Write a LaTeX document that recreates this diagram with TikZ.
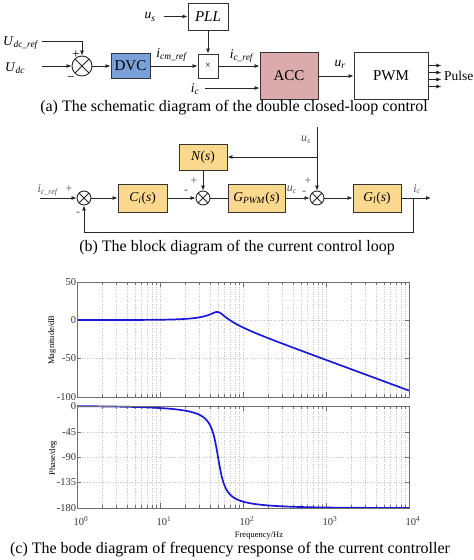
\documentclass[tikz,border=0pt]{standalone}
\usepackage{fontspec}
\setmainfont{Liberation Serif}
\usepackage{tikz}
\usetikzlibrary{arrows.meta,positioning,calc}
\definecolor{dvcblue}{RGB}{122,160,218}
\definecolor{accpink}{RGB}{219,170,170}
\definecolor{tfyellow}{RGB}{250,217,142}
\definecolor{lblgray}{RGB}{85,85,85}
\definecolor{axgray}{RGB}{110,110,110}
\definecolor{bodeblue}{RGB}{25,25,215}
\newcommand{\lbl}[2]{\textit{#1}\textsubscript{\textit{#2}}}
\tikzset{
  blk/.style={draw=black!80, line width=0.9pt, align=center, inner sep=0pt, font=\fontsize{15}{17}\selectfont},
  pllbox/.style={blk, minimum width=40pt, minimum height=27pt},
  dvcbox/.style={blk, fill=dvcblue, minimum width=39pt, minimum height=25pt},
  mulbox/.style={blk, minimum width=20pt, minimum height=24pt, font=\fontsize{10}{12}\selectfont},
  accbox/.style={blk, fill=accpink, minimum width=58pt, minimum height=47pt},
  pwmbox/.style={blk, minimum width=74pt, minimum height=47pt},
  tfbox/.style={blk, fill=tfyellow, minimum width=48pt, minimum height=28pt, font=\fontsize{13.5}{15}\selectfont},
  sum/.style={circle, draw=black!85, line width=0.9pt, minimum size=20pt, inner sep=0pt,
    path picture={\draw[line width=0.9pt] (path picture bounding box.north west)--(path picture bounding box.south east)
      (path picture bounding box.north east)--(path picture bounding box.south west);}},
  sumb/.style={sum, minimum size=14pt},
  wire/.style={line width=0.8pt, draw=black!85},
  sig/.style={wire, ->},
  lbla/.style={inner sep=0pt, font=\fontsize{13.5}{15}\selectfont},
  lblb/.style={inner sep=0pt, text=lblgray, font=\fontsize{12}{14}\selectfont},
  capt/.style={inner sep=0pt, font=\fontsize{16}{19}\selectfont},
  gridln/.style={gray!45, line width=0.4pt, dotted},
  axln/.style={axgray, line width=1pt},
  tickln/.style={axgray, line width=0.6pt},
  ticklbl/.style={inner sep=0.6pt, font=\fontsize{10.5}{12}\selectfont, text=black!80},
  curve/.style={bodeblue, line width=1.7pt, line join=round},
}

\begin{document}
\begin{tikzpicture}[x=1pt,y=-1pt,>={Latex[length=5pt,width=4pt]}]
  \useasboundingbox (0,0) rectangle (474,560);
  % (a) schematic of the double closed loop
  \node[pllbox] (pll) at (208,16.5) {\textit{PLL}};
  \node[sum] (s1) at (82,66) {};
  \node[dvcbox] (dvc) at (130.5,66) {DVC};
  \node[mulbox] (mul) at (208,66) {×};
  \node[accbox] (acc) at (289,76) {ACC};
  \node[pwmbox] (pwm) at (391,76) {PWM};
  \node[lbla] (us) at (150,17) {\lbl{u}{s}};
  \node[lbla] (udcref) at (21,43) {\lbl{U}{dc\_ref}};
  \node[lbla] (udc) at (15,68) {\lbl{U}{dc}};
  \node[lbla] (icm) at (172,55) {\lbl{i}{cm\_ref}};
  \node[lbla] (icref) at (242,56) {\lbl{i}{c\_ref}};
  \node[lbla] (ic) at (195,89) {\lbl{i}{c}};
  \node[lbla] (ur) at (340,64) {\lbl{u}{r}};
  \node[lbla, anchor=west] (pulse) at (444,76) {Pulse};
  \node[lbla] (pa) at (76,55) {+};
  \node[lbla] (ma) at (71,79) {−};
  \coordinate (usin) at (164,16.5);
  \coordinate (urefin) at (42,41);
  \coordinate (udcin) at (42,66);
  \coordinate (icin) at (205,88);
  \draw[sig] (usin) -- (pll);
  \draw[sig] (urefin) -| (s1);
  \draw[sig] (udcin) -- (s1);
  \draw[sig] (s1) -- (dvc);
  \draw[sig] (dvc) -- (mul);
  \draw[sig] (pll) -- (mul);
  \draw[sig] (mul.east) -- (mul.east -| acc.west);
  \draw[sig] (icin) -- (icin -| acc.west);
  \draw[sig] (acc) -- (pwm);
  \foreach \dy in {-10.5,-3.5,3.5,10.5}
    \draw[sig] ($(pwm.east)+(0,\dy)$) -- ++(13,0);
  \node[capt] (capa) at (234,108) {(a) The schematic diagram of the double closed-loop control};

  % (b) current control loop
  \node[sumb] (s1b) at (84,198) {};
  \node[tfbox, minimum width=49pt] (ci) at (142.5,198) {\lbl{C}{i}(\textit{s})};
  \node[sumb] (s2b) at (203,198) {};
  \node[tfbox, minimum height=26pt] (ns) at (203,157) {\textit{N}(\textit{s})};
  \node[tfbox, minimum width=57pt] (gpwm) at (256.5,198) {\lbl{G}{PWM}(\textit{s})};
  \node[sumb] (s3b) at (317,198) {};
  \node[tfbox] (gl) at (377,198) {\lbl{G}{l}(\textit{s})};
  \coordinate (icrefin) at (40,198);
  \coordinate (icout) at (431,198);
  \coordinate (tap) at (413,198);
  \coordinate (fb) at (413,232);
  \coordinate (ustop) at (317,127);
  \coordinate (usbr) at (317,157);
  \draw[sig] (icrefin) -- (s1b);
  \draw[sig] (s1b) -- (ci);
  \draw[sig] (ci) -- (s2b);
  \draw[wire] (s2b) -- (gpwm);
  \draw[sig] (gpwm) -- (s3b);
  \draw[sig] (s3b) -- (gl);
  \draw[sig] (gl) -- (icout);
  \draw[sig] (tap) -- (fb) -| (s1b);
  \draw[sig] (ustop) -- (s3b);
  \draw[sig] (usbr) -- (ns);
  \draw[sig] (ns) -- (s2b);
  \node[lblb] (icrefb) at (48,190) {\lbl{i}{c\_ref}};
  \node[lblb] (pb1) at (69,189) {+};
  \node[lblb] (mb1) at (78,214) {-};
  \node[lblb] (mb2) at (186,192) {-};
  \node[lblb] (pb2) at (194,181) {+};
  \node[lblb] (ucb) at (292,190) {\lbl{u}{c}};
  \node[lblb] (mb3) at (304,193) {-};
  \node[lblb] (pb3) at (308,181) {+};
  \node[lblb] (usb) at (306,140) {\lbl{u}{s}};
  \node[lblb] (icb) at (417,189) {\lbl{i}{c}};
  \node[capt] (capb) at (237,248) {(b) The block diagram of the current control loop};

  % (c) bode diagram, 83 px per decade
  \foreach \d in {0,1,2,3}
    \foreach \m in {1,...,9} {
      \pgfmathsetmacro\xx{77+83*(\d+log10(\m))}
      \draw[gridln] (\xx,282) -- (\xx,397);
      \draw[gridln] (\xx,406) -- (\xx,508);
      \pgfmathsetmacro\tl{\m==1 ? 5 : 3}
      \draw[tickln] (\xx,282) -- ++(0,\tl);
      \draw[tickln] (\xx,397) -- ++(0,-\tl);
      \draw[tickln] (\xx,406) -- ++(0,\tl);
      \draw[tickln] (\xx,508) -- ++(0,-\tl);
    }
  \foreach \yy in {320,358} {
    \draw[gridln] (77,\yy) -- (409,\yy);
    \draw[tickln] (77,\yy) -- ++(4,0);
    \draw[tickln] (409,\yy) -- ++(-4,0);
  }
  \foreach \yy in {432,457,482} {
    \draw[gridln] (77,\yy) -- (409,\yy);
    \draw[tickln] (77,\yy) -- ++(4,0);
    \draw[tickln] (409,\yy) -- ++(-4,0);
  }
  % magnitude and phase of the closed current loop
  \draw[curve] plot[domain=0:1.69897, samples=90]
    ({77+83*\x}, {320+7.6667*log10((1-pow(10,2*\x-3.39794))*(1-pow(10,2*\x-3.39794))+0.09*pow(10,2*\x-3.39794))})
    -- plot[domain=1.69897:4, samples=110]
    ({77+83*\x}, {320+0.76667*(40*(\x-1.69897)+10*log10((pow(10,3.39794-2*\x)-1)*(pow(10,3.39794-2*\x)-1)+0.09*pow(10,3.39794-2*\x)))});
  \draw[curve] plot[domain=0:1.69897, samples=90]
    ({77+83*\x}, {406+0.56667*atan2(0.3*pow(10,\x-1.69897), 1-pow(10,2*\x-3.39794))})
    -- plot[domain=1.69897:4, samples=110]
    ({77+83*\x}, {406+0.56667*atan2(0.3*pow(10,1.69897-\x), pow(10,3.39794-2*\x)-1)});
  \draw[axln] (77,282) rectangle (409,397);
  \draw[axln] (77,406) rectangle (409,508);
  \foreach \yy/\t in {282/50,320/0,358/-50,397/-100}
    \node[ticklbl, anchor=east] (my\t) at (77,\yy) {\t};
  \foreach \yy/\t in {406/0,432/-45,457/-90,482/-135,508/-180}
    \node[ticklbl, anchor=east] (py\t) at (77,\yy) {\t};
  \foreach \d in {0,...,4}
    \node[ticklbl] (fx\d) at ({81+83*\d},521) {10\textsuperscript{\d}};
  \node[inner sep=0pt, font=\fontsize{8.5}{10}\selectfont] (fq) at (259,536) {Frequency/Hz};
  \node[inner sep=0pt, rotate=90, font=\fontsize{8.5}{10}\selectfont] (mlab) at (52,340) {Magnitude/dB};
  \node[inner sep=0pt, rotate=90, font=\fontsize{8.5}{10}\selectfont] (plab) at (53,458) {Phase/deg};
  \node[capt] (capc) at (230,550) {(c) The bode diagram of frequency response of the current controller};
\end{tikzpicture}
\end{document}
